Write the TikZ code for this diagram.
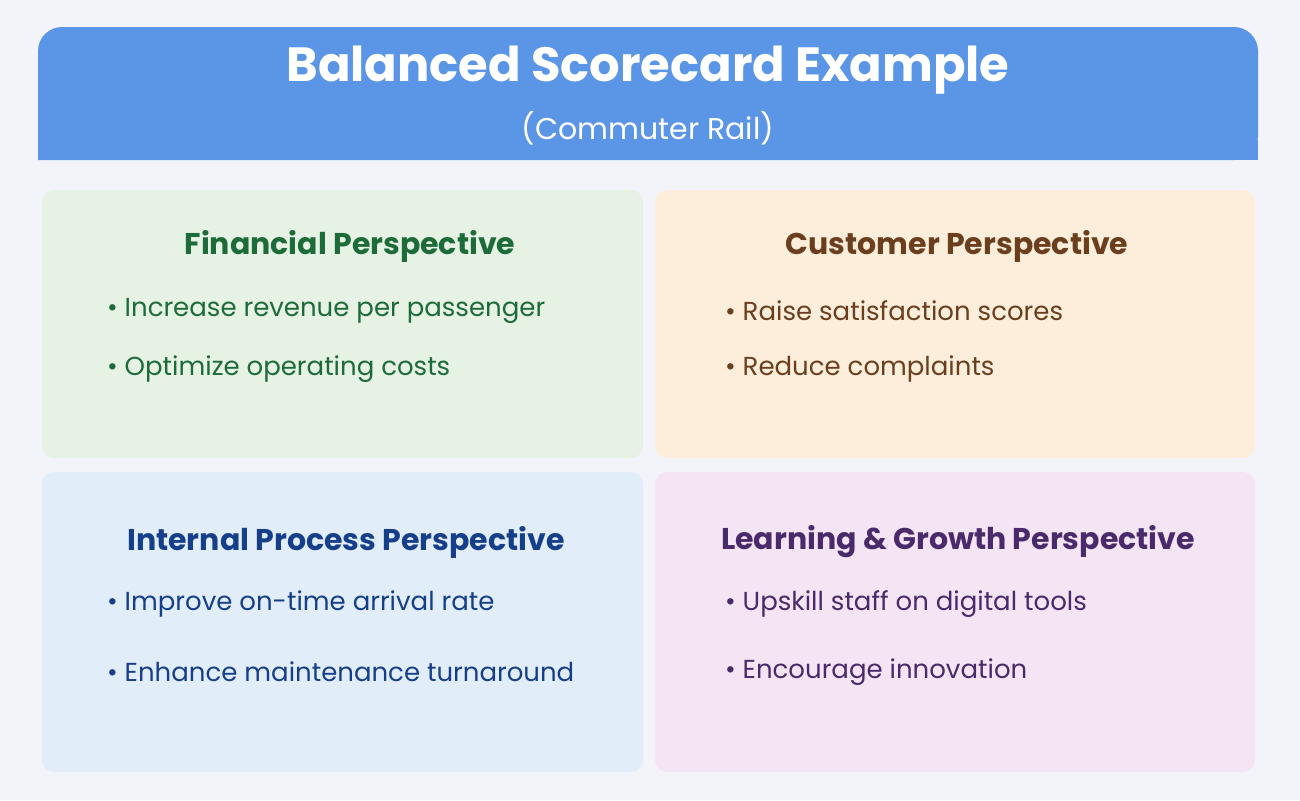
\documentclass[tikz,border=0pt]{standalone}
\usepackage{fontspec}
\setmainfont{Poppins}
\begin{document}
\begin{tikzpicture}[x=0.5pt,y=-0.5pt,
  panel/.style={rounded corners=6pt,draw=none},
  head/.style={font=\fontsize{15}{18}\selectfont\bfseries},
  bul/.style={anchor=west,font=\fontsize{13}{16}\selectfont}]
\definecolor{bg}{HTML}{F3F4FA}
\definecolor{hdr}{HTML}{5B96E6}
\definecolor{gf}{HTML}{E6F2E4}\definecolor{gt}{HTML}{1E6B3A}
\definecolor{of}{HTML}{FDEEDB}\definecolor{ot}{HTML}{6B3F1E}
\definecolor{bf}{HTML}{E2EDFA}\definecolor{bt}{HTML}{163F8A}
\definecolor{pf}{HTML}{F4E4F4}\definecolor{pt}{HTML}{4A2A6A}
\fill[bg] (0,0) rectangle (1300,800);
\useasboundingbox (0,0) rectangle (1300,800);
\fill[hdr,rounded corners=12pt] (38,160) -- (38,27) -- (1258,27) -- (1258,160) [sharp corners] -- cycle;
\fill[hdr] (38,140) rectangle (1258,160);
\node[text=white,font=\fontsize{24}{28}\selectfont\bfseries] (t) at (648,70) {Balanced Scorecard Example};
\node[text=white,font=\fontsize{15}{18}\selectfont] (st) at (648,128) {(Commuter Rail)};
\fill[gf,panel] (42,190) rectangle (643,458);
\fill[of,panel] (655,190) rectangle (1255,458);
\fill[bf,panel] (42,472) rectangle (643,772);
\fill[pf,panel] (655,472) rectangle (1255,772);
\node[head,text=gt] (h1) at (350,246) {Financial Perspective};
\node[bul,text=gt] (a1) at (100,311) {• Increase revenue per passenger};
\node[bul,text=gt] (a2) at (100,369) {• Optimize operating costs};
\node[head,text=ot] (h2) at (957,246) {Customer Perspective};
\node[bul,text=ot] (b1) at (718,311) {• Raise satisfaction scores};
\node[bul,text=ot] (b2) at (718,369) {• Reduce complaints};
\node[head,text=bt] (h3) at (346,542) {Internal Process Perspective};
\node[bul,text=bt] (c1) at (100,604) {• Improve on-time arrival rate};
\node[bul,text=bt] (c2) at (100,672) {• Enhance maintenance turnaround};
\node[head,text=pt] (h4) at (958,542) {Learning \& Growth Perspective};
\node[bul,text=pt] (d1) at (718,604) {• Upskill staff on digital tools};
\node[bul,text=pt] (d2) at (718,672) {• Encourage innovation};
\end{tikzpicture}
\end{document}
